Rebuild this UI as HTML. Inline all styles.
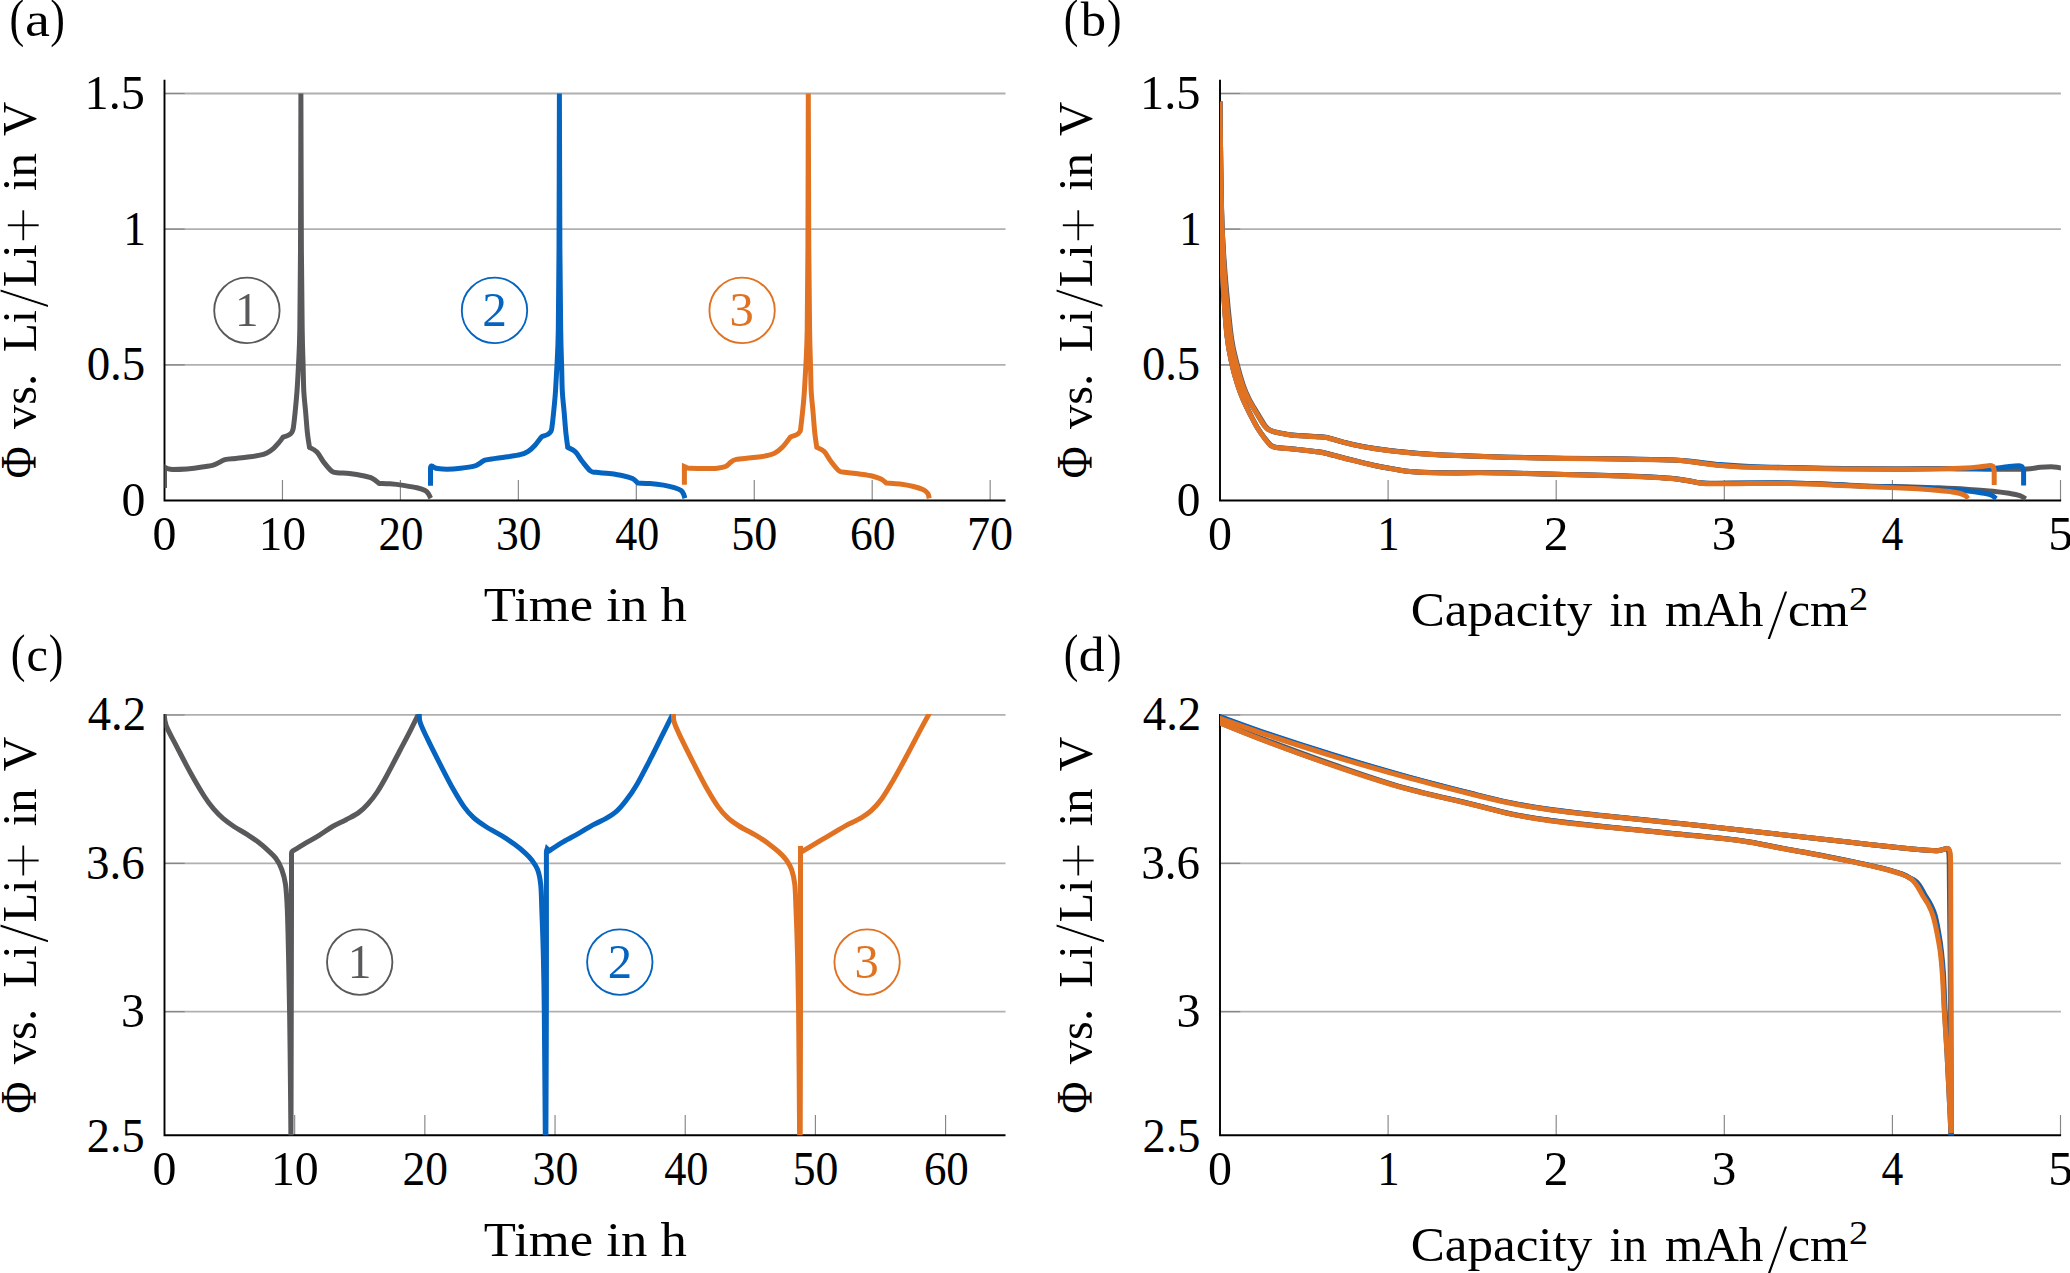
<!DOCTYPE html>
<html lang="en"><head><meta charset="utf-8"><title>Half-cell cycling: potential vs. time and capacity</title>
<style>html,body{margin:0;padding:0;background:#fff}body{width:2070px;height:1273px;overflow:hidden}svg{display:block}text{font-family:'Liberation Serif', 'DejaVu Serif', serif;white-space:pre}</style></head><body>
<svg width="2070" height="1273" viewBox="0 0 2070 1273" role="img" aria-label="Potential versus time and capacity for three cycles, panels (a) to (d)">
<rect width="2070" height="1273" fill="#fff"/>
<defs>
<clipPath id="ka"><rect x="164.5" y="92.7" width="841" height="407.75"/></clipPath>
<clipPath id="kb"><rect x="1220" y="80" width="840.9" height="420.45"/></clipPath>
<clipPath id="kc"><rect x="164.5" y="714.1" width="841" height="421.2"/></clipPath>
<clipPath id="kd"><rect x="1220" y="714.1" width="840.9" height="421.2"/></clipPath>
</defs>
<path d="M164.5 93.50H1005.5M164.5 229.15H1005.5M164.5 364.85H1005.5M1220.0 93.50H2060.9M1220.0 229.15H2060.9M1220.0 364.85H2060.9M164.5 714.95H1005.5M164.5 863.30H1005.5M164.5 1011.65H1005.5M1220.0 714.95H2060.9M1220.0 863.30H2060.9M1220.0 1011.65H2060.9" stroke="#b0b0b0" stroke-width="1.8" fill="none"/>
<path d="M164.5 93.50h20.2M164.5 229.15h20.2M164.5 364.85h20.2M1220.0 93.50h20.2M1220.0 229.15h20.2M1220.0 364.85h20.2M164.5 714.95h20.2M164.5 863.30h20.2M164.5 1011.65h20.2M1220.0 714.95h20.2M1220.0 863.30h20.2M1220.0 1011.65h20.2M282.45 500.45v-20.4M400.40 500.45v-20.4M518.35 500.45v-20.4M636.30 500.45v-20.4M754.25 500.45v-20.4M872.20 500.45v-20.4M990.15 500.45v-20.4M294.68 1135.3v-20.4M424.86 1135.3v-20.4M555.04 1135.3v-20.4M685.22 1135.3v-20.4M815.40 1135.3v-20.4M945.58 1135.3v-20.4M1388.10 500.45v-20.4M1388.10 1135.3v-20.4M1556.20 500.45v-20.4M1556.20 1135.3v-20.4M1724.30 500.45v-20.4M1724.30 1135.3v-20.4M1892.40 500.45v-20.4M1892.40 1135.3v-20.4M2060.50 500.45v-20.4M2060.50 1135.3v-20.4M2060.50 500.45v-20.4M2060.50 1135.3v-20.4" stroke="#868686" stroke-width="1.15" fill="none"/>
<path d="M164.5 79.8V500.45H1005.5M1220 79.8V500.45H2061.1M164.5 714.0V1135.3H1005.5M1220 714.0V1135.3H2061.1" stroke="#000" stroke-width="1.9" fill="none" stroke-linejoin="miter"/>
<path d="M164.5 487.9L164.5 467.0L167.5 468.6C168.4 468.7 169.4 469.3 172.7 469.4C175.9 469.4 182.3 469.2 187.0 468.9C191.7 468.5 196.1 468.0 200.6 467.3C205.1 466.6 210.0 466.2 214.1 464.9C218.2 463.6 221.3 460.8 224.9 459.7C228.5 458.6 231.9 458.8 235.7 458.4C239.5 458.0 244.1 457.6 247.9 457.1C251.7 456.6 255.5 456.1 258.7 455.4C261.9 454.7 264.4 454.1 266.9 452.9C269.4 451.7 271.6 450.0 273.6 448.3C275.6 446.6 277.4 444.4 279.0 442.5C280.6 440.6 282.4 438.0 283.1 437.1C284.0 436.8 287.0 435.9 288.5 435.1C290.0 434.3 291.1 433.5 291.9 432.2C292.7 430.9 292.8 430.9 293.4 427.5C293.9 424.1 294.6 417.7 295.2 411.6C295.8 405.6 296.4 399.0 297.0 391.2C297.6 383.4 298.0 374.9 298.5 364.7C299.0 354.5 299.5 349.1 299.8 330.0C300.1 310.9 300.3 289.4 300.5 250.0C300.7 210.6 300.8 119.6 300.9 93.5C301.0 119.6 301.2 210.6 301.4 250.0C301.6 289.4 301.9 310.9 302.2 330.0C302.5 349.1 302.8 354.5 303.1 364.7C303.4 374.9 303.4 383.4 303.8 391.2C304.2 399.0 305.0 404.8 305.6 411.6C306.2 418.4 306.7 426.1 307.3 432.0C307.9 437.9 309.1 444.8 309.5 447.3C310.7 448.1 314.5 449.5 316.9 452.0C319.3 454.5 321.2 458.9 323.7 462.1C326.2 465.3 329.6 469.5 331.8 471.3C334.1 473.1 334.3 472.3 337.2 472.7C340.1 473.1 345.1 473.1 349.4 473.6C353.7 474.1 359.1 474.9 362.9 475.7C366.7 476.5 369.7 477.1 372.4 478.4C375.1 479.7 378.0 482.6 379.1 483.4C380.9 483.5 385.8 483.5 389.9 483.8C394.0 484.1 399.0 484.7 403.5 485.4C408.0 486.1 413.4 486.9 417.0 487.8C420.6 488.7 423.2 489.5 425.1 490.5C427.0 491.5 427.6 492.6 428.5 493.9C429.4 495.2 430.3 497.6 430.7 498.3" fill="none" stroke="#59595b" stroke-width="5.00" stroke-linejoin="miter" stroke-miterlimit="10" clip-path="url(#ka)"/>
<path d="M430.5 485.7L430.5 468.5C430.5 468.2 430.5 467.2 430.7 466.8C430.9 466.4 431.2 466.0 431.5 465.9C431.8 465.8 432.1 466.0 432.6 466.3C433.1 466.6 433.7 467.1 434.5 467.5C435.3 467.9 435.5 468.2 437.6 468.5C439.7 468.8 443.2 469.2 447.0 469.2C450.8 469.1 456.1 468.7 460.6 468.2C465.1 467.7 471.0 467.0 474.1 466.2C477.2 465.4 477.7 464.5 479.5 463.5C481.3 462.5 482.2 461.0 484.9 460.1C487.6 459.2 491.9 459.0 495.7 458.4C499.5 457.8 503.8 457.3 507.9 456.7C512.0 456.1 516.7 455.6 520.1 454.7C523.5 453.8 525.7 452.9 528.2 451.3C530.7 449.7 532.8 447.6 535.0 445.2C537.2 442.8 540.6 438.1 541.7 436.7C542.7 436.3 546.3 435.2 547.8 434.4C549.3 433.5 550.1 432.8 550.8 431.6C551.5 430.5 551.4 430.8 551.9 427.5C552.4 424.2 553.1 417.7 553.7 411.6C554.3 405.6 555.0 399.0 555.5 391.2C556.0 383.4 556.5 374.9 557.0 364.7C557.5 354.5 558.0 349.1 558.3 330.0C558.6 310.9 558.8 289.4 559.0 250.0C559.2 210.6 559.3 119.6 559.4 93.5C559.5 119.6 559.7 210.6 559.9 250.0C560.1 289.4 560.4 310.9 560.7 330.0C561.0 349.1 561.3 354.5 561.6 364.7C561.9 374.9 561.9 383.4 562.3 391.2C562.7 399.0 563.5 404.8 564.1 411.6C564.7 418.4 565.2 426.1 565.8 432.0C566.4 437.9 567.4 444.8 567.7 447.3C569.0 448.1 573.2 449.6 575.6 452.0C578.0 454.4 579.8 458.4 582.3 461.5C584.8 464.6 588.1 469.1 590.4 470.9C592.6 472.7 592.6 471.9 595.8 472.3C599.0 472.8 604.9 473.0 609.4 473.6C613.9 474.2 619.1 474.9 622.9 475.7C626.7 476.5 629.9 477.4 632.4 478.6C634.9 479.8 636.9 482.4 637.8 483.1C639.8 483.2 645.7 483.2 650.0 483.5C654.3 483.8 659.5 484.4 663.5 485.1C667.5 485.8 671.4 486.7 674.3 487.6C677.2 488.5 679.5 489.3 681.1 490.5C682.7 491.7 683.2 493.3 683.8 494.6C684.4 495.9 684.7 497.7 684.9 498.3" fill="none" stroke="#0564c0" stroke-width="5.00" stroke-linejoin="miter" stroke-miterlimit="10" clip-path="url(#ka)"/>
<path d="M684.4 484.7L684.4 466.6L686.5 467.6C686.8 467.7 687.9 468.0 688.5 468.1C689.1 468.2 687.8 468.2 690.3 468.3C692.8 468.4 699.3 468.6 703.8 468.6C708.3 468.6 713.7 468.6 717.3 468.2C720.9 467.8 723.2 467.5 725.5 466.5C727.8 465.5 729.1 463.3 730.9 462.1C732.7 460.9 732.9 460.1 736.3 459.4C739.7 458.7 746.5 458.4 751.2 457.8C755.9 457.2 760.9 456.8 764.7 456.1C768.5 455.4 771.3 454.9 774.2 453.4C777.1 451.9 779.6 450.0 782.3 447.3C785.0 444.6 789.0 438.8 790.4 437.1C791.5 436.7 795.5 435.3 797.1 434.4C798.7 433.4 799.4 432.5 800.0 431.4C800.6 430.2 800.4 430.8 800.8 427.5C801.2 424.2 802.0 417.7 802.6 411.6C803.2 405.6 803.9 399.0 804.4 391.2C804.9 383.4 805.4 374.9 805.9 364.7C806.4 354.5 806.9 349.1 807.2 330.0C807.5 310.9 807.7 289.4 807.9 250.0C808.1 210.6 808.2 119.6 808.3 93.5C808.4 119.6 808.6 210.6 808.8 250.0C809.0 289.4 809.3 310.9 809.6 330.0C809.9 349.1 810.2 354.5 810.5 364.7C810.8 374.9 810.8 383.4 811.2 391.2C811.6 399.0 812.4 404.8 813.0 411.6C813.6 418.4 814.1 426.1 814.7 432.0C815.3 437.9 816.4 444.8 816.8 447.3C818.0 448.0 821.8 449.2 824.2 451.6C826.6 454.0 828.5 458.3 831.0 461.5C833.5 464.7 836.9 469.1 839.1 470.9C841.4 472.7 841.1 471.8 844.5 472.3C847.9 472.8 854.7 473.3 859.4 474.0C864.1 474.7 869.3 475.4 872.9 476.3C876.5 477.2 878.8 478.0 881.0 479.1C883.2 480.2 885.5 482.4 886.4 483.1C888.7 483.3 895.5 483.5 900.0 484.1C904.5 484.7 909.7 485.6 913.5 486.5C917.3 487.4 920.5 488.4 922.9 489.5C925.3 490.6 926.7 491.8 927.7 493.3C928.8 494.8 929.0 497.5 929.2 498.3" fill="none" stroke="#e07222" stroke-width="5.00" stroke-linejoin="miter" stroke-miterlimit="10" clip-path="url(#ka)"/>
<path d="M1220.0 101.6C1220.2 114.6 1220.6 158.6 1221.0 179.8C1221.4 201.0 1221.4 212.1 1222.2 228.8C1223.0 245.5 1224.1 261.6 1225.6 279.8C1227.2 298.0 1229.5 323.7 1231.5 337.8C1233.5 351.9 1235.3 356.8 1237.3 364.7C1239.3 372.6 1241.3 379.4 1243.3 385.2C1245.3 391.0 1246.9 394.6 1249.3 399.3C1251.7 404.0 1255.0 409.2 1257.5 413.4C1260.0 417.6 1262.5 421.8 1264.2 424.3C1265.9 426.8 1266.6 427.3 1267.5 428.2C1268.4 429.1 1268.4 429.3 1269.5 429.9C1270.6 430.5 1272.2 431.2 1274.0 431.7C1275.8 432.2 1277.4 432.5 1280.1 433.0C1282.8 433.5 1287.6 434.4 1290.0 434.8C1292.4 435.2 1290.5 434.9 1294.7 435.2C1298.9 435.5 1309.8 436.1 1315.0 436.5C1320.2 436.9 1321.3 436.4 1325.8 437.3C1330.3 438.2 1335.9 440.2 1342.0 441.7C1348.1 443.2 1354.4 444.9 1362.3 446.4C1370.2 447.9 1380.4 449.4 1389.4 450.5C1398.4 451.6 1407.4 452.5 1416.4 453.2C1425.4 453.9 1434.6 454.5 1443.5 454.9C1452.4 455.4 1458.8 455.5 1470.0 455.9C1481.2 456.3 1494.8 456.8 1510.6 457.2C1526.4 457.6 1546.7 458.0 1564.7 458.3C1582.7 458.6 1600.8 458.5 1618.8 458.8C1636.8 459.1 1660.5 459.4 1672.9 459.9C1685.3 460.4 1685.3 461.0 1693.2 461.9C1701.1 462.8 1710.7 464.4 1720.2 465.3C1729.7 466.2 1738.4 466.7 1750.0 467.1C1761.6 467.5 1774.3 467.5 1790.0 467.8C1805.7 468.1 1826.1 468.5 1844.1 468.7C1862.1 468.9 1882.4 469.0 1898.2 469.0C1914.0 469.0 1927.5 468.6 1938.8 468.6C1950.1 468.6 1956.3 468.8 1965.8 468.9C1975.3 469.0 1985.4 469.2 1995.6 469.2C2005.8 469.2 2019.3 469.2 2026.7 468.9C2034.1 468.6 2035.7 467.6 2040.2 467.3C2044.7 467.0 2049.8 466.7 2053.8 466.9C2057.8 467.1 2062.3 468.3 2064.0 468.6M1220.2 101.6C1220.2 114.7 1220.2 158.7 1220.4 179.8C1220.5 201.0 1220.4 212.2 1220.9 228.8C1221.3 245.5 1221.9 262.2 1223.0 279.9C1224.0 297.5 1225.4 320.7 1227.0 334.9C1228.5 349.0 1230.3 356.3 1232.2 364.7C1234.0 373.1 1236.0 379.5 1237.9 385.2C1239.7 391.0 1241.2 394.7 1243.2 399.4C1245.2 404.1 1247.5 408.7 1249.9 413.5C1252.2 418.2 1255.0 423.5 1257.5 427.7C1259.9 431.8 1262.6 435.4 1264.8 438.2C1266.9 441.1 1269.5 443.9 1270.5 445.1C1271.2 445.4 1271.6 446.6 1275.7 447.3C1279.8 448.0 1288.2 448.4 1294.7 449.1C1301.2 449.8 1309.8 450.7 1315.0 451.4C1320.2 452.1 1320.2 451.9 1325.8 453.2C1331.4 454.5 1340.5 457.1 1348.8 459.2C1357.1 461.3 1367.9 464.0 1375.8 465.7C1383.7 467.4 1390.4 468.5 1396.1 469.4C1401.8 470.4 1404.0 470.9 1409.7 471.4C1415.4 471.9 1422.1 472.3 1430.0 472.5C1437.9 472.7 1448.7 472.8 1457.0 472.8C1465.3 472.8 1471.1 472.5 1480.0 472.5C1488.9 472.5 1496.5 472.7 1510.6 473.0C1524.7 473.3 1546.7 474.0 1564.7 474.4C1582.7 474.9 1603.0 475.2 1618.8 475.7C1634.6 476.2 1649.2 476.9 1659.4 477.5C1669.6 478.1 1673.0 478.4 1679.7 479.3C1686.5 480.2 1696.5 482.3 1699.9 482.9C1701.7 482.6 1702.5 483.1 1710.8 483.2C1719.1 483.3 1736.8 482.9 1750.0 482.9C1763.2 482.8 1776.6 482.7 1790.0 482.9C1803.4 483.1 1817.1 483.7 1830.6 484.3C1844.1 484.8 1857.7 485.8 1871.2 486.2C1884.7 486.6 1900.4 486.6 1911.7 486.9C1923.0 487.2 1929.8 487.4 1938.8 487.8C1947.8 488.2 1956.8 488.6 1965.8 489.2C1974.8 489.8 1985.7 490.5 1992.9 491.2C2000.1 491.9 2004.6 492.6 2009.1 493.3C2013.6 494.1 2017.1 494.8 2019.9 495.7C2022.7 496.6 2024.7 498.4 2025.7 499.0" fill="none" stroke="#59595b" stroke-width="5.00" stroke-linejoin="miter" stroke-miterlimit="10" clip-path="url(#kb)"/>
<path d="M1220.0 101.6C1220.2 114.7 1220.6 158.7 1221.0 179.8C1221.4 201.0 1221.5 212.2 1222.2 228.8C1222.9 245.5 1223.5 261.7 1224.9 279.9C1226.3 298.0 1228.8 323.7 1230.8 337.9C1232.8 352.0 1234.6 356.8 1236.6 364.7C1238.6 372.6 1240.6 379.5 1242.6 385.2C1244.6 391.0 1246.2 394.7 1248.6 399.4C1251.0 404.1 1254.3 409.3 1256.8 413.5C1259.3 417.6 1261.8 421.9 1263.5 424.4C1265.2 426.8 1265.8 427.3 1266.8 428.2C1267.8 429.2 1268.3 429.4 1269.5 430.0C1270.7 430.5 1272.2 431.2 1274.0 431.8C1275.8 432.3 1277.4 432.5 1280.1 433.1C1282.8 433.6 1287.6 434.5 1290.0 434.9C1292.4 435.2 1290.5 435.0 1294.7 435.2C1298.9 435.5 1309.8 436.2 1315.0 436.6C1320.2 436.9 1321.3 436.5 1325.8 437.4C1330.3 438.2 1335.9 440.2 1342.0 441.8C1348.1 443.3 1354.4 445.0 1362.3 446.5C1370.2 447.9 1380.4 449.4 1389.4 450.6C1398.4 451.7 1407.4 452.5 1416.4 453.2C1425.4 454.0 1434.6 454.5 1443.5 455.0C1452.4 455.4 1458.8 455.6 1470.0 456.0C1481.2 456.3 1494.8 456.9 1510.6 457.2C1526.4 457.6 1546.7 458.1 1564.7 458.4C1582.7 458.6 1600.8 458.6 1618.8 458.9C1636.8 459.1 1660.5 459.5 1672.9 460.0C1685.3 460.4 1685.3 460.7 1693.2 461.5C1701.1 462.2 1710.7 463.8 1720.2 464.6C1729.7 465.4 1738.4 465.9 1750.0 466.4C1761.6 466.9 1774.3 467.2 1790.0 467.6C1805.7 467.9 1826.1 468.4 1844.1 468.6C1862.1 468.8 1882.4 468.9 1898.2 468.9C1914.0 468.9 1927.5 468.7 1938.8 468.6C1950.1 468.6 1956.3 468.7 1965.8 468.6C1975.3 468.5 1988.4 468.6 1995.6 468.2C2002.8 467.8 2005.3 466.9 2009.1 466.5C2012.9 466.1 2016.4 465.8 2018.6 465.8C2020.8 465.9 2021.4 466.6 2022.0 466.8L2023.6 470.3L2023.6 485.5M1220.1 101.7C1220.1 114.7 1220.2 158.7 1220.3 179.9C1220.4 201.1 1220.4 212.2 1220.8 228.9C1221.2 245.6 1221.9 262.2 1222.9 279.9C1223.9 297.6 1225.4 320.8 1226.9 334.9C1228.4 349.0 1230.3 356.4 1232.1 364.8C1233.9 373.1 1236.0 379.5 1237.8 385.3C1239.6 391.1 1241.1 394.7 1243.1 399.4C1245.1 404.1 1247.4 408.8 1249.8 413.5C1252.2 418.2 1254.9 423.6 1257.4 427.7C1259.9 431.8 1262.5 435.4 1264.7 438.3C1266.9 441.2 1269.4 444.0 1270.4 445.1C1271.2 445.4 1271.6 446.7 1275.7 447.4C1279.8 448.0 1288.2 448.5 1294.7 449.2C1301.2 449.8 1309.8 450.8 1315.0 451.5C1320.2 452.1 1320.2 451.9 1325.8 453.2C1331.4 454.6 1340.5 457.2 1348.8 459.2C1357.1 461.3 1367.9 464.1 1375.8 465.8C1383.7 467.4 1390.4 468.5 1396.1 469.5C1401.8 470.4 1404.0 470.9 1409.7 471.5C1415.4 472.0 1422.1 472.3 1430.0 472.6C1437.9 472.8 1448.7 472.9 1457.0 472.9C1465.3 472.9 1471.1 472.5 1480.0 472.6C1488.9 472.6 1496.5 472.7 1510.6 473.1C1524.7 473.4 1546.7 474.0 1564.7 474.5C1582.7 474.9 1603.0 475.2 1618.8 475.8C1634.6 476.3 1649.2 476.9 1659.4 477.6C1669.6 478.2 1673.0 478.5 1679.7 479.4C1686.5 480.2 1696.5 482.4 1699.9 483.0C1701.7 482.8 1702.5 483.3 1710.8 483.4C1719.1 483.5 1736.8 483.2 1750.0 483.1C1763.2 483.1 1776.6 482.9 1790.0 483.1C1803.4 483.3 1817.1 483.9 1830.6 484.5C1844.1 485.1 1857.7 485.9 1871.2 486.4C1884.7 486.9 1900.4 487.2 1911.7 487.6C1923.0 488.0 1929.8 488.4 1938.8 488.9C1947.8 489.4 1958.6 490.1 1965.8 490.8C1973.0 491.5 1977.8 492.2 1982.1 493.0C1986.4 493.8 1989.2 494.3 1991.5 495.3C1993.8 496.3 1995.4 498.2 1996.2 498.8" fill="none" stroke="#0564c0" stroke-width="5.00" stroke-linejoin="miter" stroke-miterlimit="10" clip-path="url(#kb)"/>
<path d="M1220.0 101.8C1220.2 114.8 1220.6 158.8 1221.0 180.0C1221.4 201.2 1221.5 212.3 1222.2 229.0C1222.9 245.7 1223.5 261.8 1224.9 280.0C1226.3 298.2 1228.8 323.9 1230.8 338.0C1232.8 352.1 1234.6 357.0 1236.6 364.9C1238.6 372.8 1240.6 379.6 1242.6 385.4C1244.6 391.2 1246.2 394.8 1248.6 399.5C1251.0 404.2 1254.3 409.4 1256.8 413.6C1259.3 417.8 1261.8 422.0 1263.5 424.5C1265.2 427.0 1265.8 427.5 1266.8 428.4C1267.8 429.3 1268.3 429.5 1269.5 430.1C1270.7 430.7 1272.2 431.4 1274.0 431.9C1275.8 432.4 1277.4 432.7 1280.1 433.2C1282.8 433.7 1287.6 434.6 1290.0 435.0C1292.4 435.4 1290.5 435.1 1294.7 435.4C1298.9 435.7 1309.8 436.3 1315.0 436.7C1320.2 437.1 1321.3 436.6 1325.8 437.5C1330.3 438.4 1335.9 440.4 1342.0 441.9C1348.1 443.4 1354.4 445.1 1362.3 446.6C1370.2 448.1 1380.4 449.6 1389.4 450.7C1398.4 451.8 1407.4 452.7 1416.4 453.4C1425.4 454.1 1434.6 454.7 1443.5 455.1C1452.4 455.6 1458.8 455.7 1470.0 456.1C1481.2 456.5 1494.8 457.0 1510.6 457.4C1526.4 457.8 1546.7 458.2 1564.7 458.5C1582.7 458.8 1600.8 458.7 1618.8 459.0C1636.8 459.3 1660.5 459.6 1672.9 460.1C1685.3 460.6 1685.3 461.2 1693.2 462.1C1701.1 463.0 1710.7 464.6 1720.2 465.5C1729.7 466.4 1738.4 466.9 1750.0 467.3C1761.6 467.7 1774.3 467.7 1790.0 468.0C1805.7 468.3 1826.1 468.7 1844.1 468.9C1862.1 469.1 1882.4 469.2 1898.2 469.2C1914.0 469.2 1927.5 469.1 1938.8 468.9C1950.1 468.7 1958.6 468.4 1965.8 468.0C1973.0 467.6 1978.0 466.9 1982.1 466.5C1986.2 466.1 1988.4 465.5 1990.2 465.5C1992.0 465.5 1992.5 466.3 1993.0 466.5L1994.2 470.3L1994.2 484.9M1220.0 101.8C1220.0 114.8 1220.1 158.8 1220.2 180.0C1220.3 201.2 1220.3 212.3 1220.7 229.0C1221.1 245.7 1221.8 262.3 1222.8 280.0C1223.8 297.7 1225.3 320.9 1226.8 335.0C1228.3 349.1 1230.2 356.5 1232.0 364.9C1233.8 373.2 1235.9 379.6 1237.7 385.4C1239.5 391.2 1241.0 394.8 1243.0 399.5C1245.0 404.2 1247.3 408.9 1249.7 413.6C1252.1 418.3 1254.8 423.7 1257.3 427.8C1259.8 431.9 1262.4 435.5 1264.6 438.4C1266.8 441.3 1269.3 444.1 1270.3 445.2C1271.2 445.6 1271.6 446.8 1275.7 447.5C1279.8 448.2 1288.2 448.6 1294.7 449.3C1301.2 450.0 1309.8 450.9 1315.0 451.6C1320.2 452.3 1320.2 452.1 1325.8 453.4C1331.4 454.7 1340.5 457.3 1348.8 459.4C1357.1 461.5 1367.9 464.2 1375.8 465.9C1383.7 467.6 1390.4 468.7 1396.1 469.6C1401.8 470.6 1404.0 471.1 1409.7 471.6C1415.4 472.1 1422.1 472.5 1430.0 472.7C1437.9 472.9 1448.7 473.0 1457.0 473.0C1465.3 473.0 1471.1 472.7 1480.0 472.7C1488.9 472.7 1496.5 472.9 1510.6 473.2C1524.7 473.5 1546.7 474.2 1564.7 474.6C1582.7 475.1 1603.0 475.4 1618.8 475.9C1634.6 476.4 1649.2 477.1 1659.4 477.7C1669.6 478.3 1673.0 478.6 1679.7 479.5C1686.5 480.4 1696.5 482.5 1699.9 483.1C1701.7 483.2 1702.5 483.7 1710.8 483.8C1719.1 483.9 1736.8 483.6 1750.0 483.5C1763.2 483.4 1776.6 483.3 1790.0 483.5C1803.4 483.7 1817.1 484.3 1830.6 484.9C1844.1 485.4 1857.7 486.2 1871.2 486.8C1884.7 487.4 1900.4 487.9 1911.7 488.5C1923.0 489.1 1932.0 489.9 1938.8 490.5C1945.6 491.1 1948.7 491.4 1952.3 491.9C1955.9 492.4 1958.2 492.8 1960.4 493.5C1962.7 494.2 1964.5 495.1 1965.8 496.0C1967.1 496.9 1967.6 498.3 1968.0 498.8" fill="none" stroke="#e07222" stroke-width="5.00" stroke-linejoin="miter" stroke-miterlimit="10" clip-path="url(#kb)"/>
<path d="M164.0 712.5C164.4 714.7 164.0 719.9 166.2 725.7C168.4 731.5 173.0 739.4 177.1 747.3C181.2 755.2 186.1 764.9 190.6 773.0C195.1 781.1 200.3 790.0 204.1 796.0C207.9 802.0 210.4 805.2 213.6 808.9C216.8 812.6 219.6 815.5 223.0 818.4C226.4 821.3 229.8 823.8 233.9 826.5C238.0 829.2 243.4 832.0 247.4 834.6C251.4 837.2 254.8 839.4 258.2 842.0C261.6 844.6 264.8 847.4 267.7 850.1C270.6 852.8 273.4 855.0 275.8 858.3C278.2 861.5 280.2 865.2 281.8 869.6C283.4 874.0 284.6 877.8 285.5 884.4C286.4 891.0 286.8 897.5 287.3 909.1C287.8 920.7 288.1 936.6 288.5 953.7C288.9 970.8 289.2 987.4 289.6 1011.8C290.0 1036.2 290.4 1079.3 290.6 1100.0C290.8 1120.7 290.8 1130.0 290.9 1136.0L291.0 1136.0C291.1 1096.7 291.4 947.0 291.5 900.0C291.6 853.0 291.5 861.7 291.5 854.0C291.6 853.7 291.6 852.5 291.8 852.0C292.1 851.5 292.5 851.1 293.0 850.7C293.5 850.3 292.9 851.0 295.0 849.7C297.1 848.5 301.6 845.6 305.6 843.2C309.6 840.8 314.6 838.1 319.1 835.3C323.6 832.5 328.1 829.1 332.6 826.5C337.1 823.9 341.8 822.0 346.1 819.7C350.4 817.4 354.7 815.5 358.3 812.9C361.9 810.3 364.7 807.7 367.8 804.2C370.9 800.7 374.1 796.8 377.2 792.0C380.3 787.2 382.9 782.7 386.7 775.7C390.5 768.7 396.1 757.8 400.2 750.0C404.3 742.2 408.0 735.3 411.1 729.1C414.2 722.9 417.7 715.7 419.0 713.0" fill="none" stroke="#59595b" stroke-width="5.00" stroke-linejoin="miter" stroke-miterlimit="10" clip-path="url(#kc)"/>
<path d="M419.4 712.0C419.5 713.7 418.7 717.8 420.1 722.3C421.5 726.8 424.3 732.3 427.6 739.2C430.9 746.1 435.5 755.2 439.8 763.6C444.1 772.0 449.2 782.1 453.3 789.3C457.4 796.5 460.7 802.2 464.1 806.9C467.5 811.6 470.0 814.4 473.6 817.7C477.2 821.0 481.0 823.5 485.7 826.5C490.4 829.5 497.2 833.0 502.0 835.9C506.8 838.8 510.4 841.3 514.2 844.1C518.0 846.9 522.0 850.1 525.0 852.8C528.0 855.5 529.9 857.5 532.0 860.3C534.1 863.1 536.1 865.6 537.6 869.6C539.1 873.6 540.0 877.8 540.7 884.4C541.4 891.0 541.4 897.5 541.8 909.1C542.2 920.7 542.9 936.6 543.3 953.7C543.7 970.8 544.0 981.4 544.3 1011.8C544.6 1042.2 545.1 1115.3 545.3 1136.0L545.9 1136.0C546.0 1113.3 546.3 1047.2 546.4 1000.0C546.5 952.8 546.4 877.5 546.4 853.0C546.4 852.7 546.4 851.7 546.5 851.0C546.6 850.3 547.1 849.2 547.2 848.8L549.2 850.8C551.5 849.3 558.2 844.7 563.2 841.8C568.2 838.9 574.2 836.0 579.1 833.2C584.0 830.4 588.1 827.6 592.6 825.1C597.1 822.6 602.0 820.8 606.1 818.4C610.2 816.0 613.6 813.9 617.0 810.9C620.4 807.9 623.0 804.6 626.4 800.1C629.8 795.6 633.1 790.9 637.2 783.9C641.3 776.9 646.3 767.0 650.8 758.2C655.3 749.4 660.5 738.6 664.3 731.1C668.0 723.6 671.8 716.0 673.3 713.0" fill="none" stroke="#0564c0" stroke-width="5.00" stroke-linejoin="miter" stroke-miterlimit="10" clip-path="url(#kc)"/>
<path d="M673.5 712.0C673.6 713.7 672.9 717.8 674.2 722.3C675.6 726.8 678.3 732.3 681.6 739.2C684.9 746.1 689.5 755.2 693.8 763.6C698.1 772.0 703.2 782.1 707.3 789.3C711.4 796.5 714.8 802.2 718.2 806.9C721.6 811.6 724.0 814.4 727.6 817.7C731.2 821.0 735.1 823.6 739.8 826.5C744.5 829.4 751.3 832.5 756.0 835.3C760.7 838.1 764.4 840.6 768.2 843.4C772.0 846.2 776.0 849.4 779.0 852.2C782.0 855.0 784.2 857.1 786.3 860.0C788.4 862.9 790.2 865.5 791.6 869.6C793.0 873.7 794.1 877.8 794.8 884.4C795.5 891.0 795.5 897.5 796.0 909.1C796.5 920.7 797.1 936.6 797.5 953.7C797.9 970.8 798.2 981.4 798.6 1011.8C799.0 1042.2 799.4 1115.3 799.6 1136.0L800.2 1136.0C800.2 1113.3 800.5 1048.3 800.5 1000.0C800.5 951.7 800.5 871.7 800.5 846.0L800.9 852.2C803.8 850.5 812.8 845.0 818.2 841.8C823.6 838.6 828.4 836.0 833.1 833.2C837.9 830.4 842.2 827.6 846.7 825.1C851.2 822.6 856.2 820.8 860.2 818.4C864.2 816.0 867.4 814.2 871.0 810.9C874.6 807.6 878.2 803.7 881.8 798.7C885.4 793.8 888.6 788.2 892.7 781.2C896.8 774.2 901.7 765.1 906.2 756.8C910.7 748.4 915.8 738.4 919.7 731.1C923.6 723.8 927.9 716.0 929.5 713.0" fill="none" stroke="#e07222" stroke-width="5.00" stroke-linejoin="miter" stroke-miterlimit="10" clip-path="url(#kc)"/>
<path d="M1218.0 716.5C1218.3 716.6 1211.6 714.3 1219.9 717.2C1228.2 720.2 1248.4 727.8 1267.6 734.2C1286.8 740.7 1312.8 749.1 1335.3 756.0C1357.8 762.9 1380.5 769.5 1402.9 775.7C1425.4 782.0 1452.0 788.8 1470.0 793.3C1488.0 797.8 1497.1 800.2 1510.6 802.9C1524.1 805.6 1535.4 807.5 1551.2 809.7C1567.0 811.9 1585.0 813.7 1605.3 815.9C1625.6 818.1 1650.5 820.5 1672.9 822.8C1695.4 825.1 1719.8 827.7 1740.0 829.9C1760.2 832.1 1776.1 834.0 1794.1 836.0C1812.1 838.0 1830.2 840.1 1848.2 842.1C1866.2 844.1 1888.3 846.5 1902.3 847.9C1916.3 849.3 1925.8 850.2 1932.1 850.6C1938.4 851.0 1937.9 850.5 1940.2 850.2C1942.5 849.9 1945.0 848.9 1946.0 848.6C1946.3 848.9 1947.1 848.9 1947.6 849.6C1948.1 850.3 1948.5 851.1 1948.8 853.0C1949.1 854.9 1949.1 859.7 1949.2 861.0C1949.2 865.0 1949.2 867.9 1949.4 884.7C1949.6 901.5 1949.9 920.1 1950.2 962.0C1950.5 1003.9 1950.9 1107.0 1951.1 1136.0M1218.0 721.5C1218.3 721.6 1211.6 719.0 1219.9 722.2C1228.2 725.4 1248.4 733.4 1267.6 740.5C1286.8 747.7 1312.8 757.3 1335.3 765.2C1357.8 773.0 1380.5 781.0 1402.9 787.4C1425.4 793.8 1452.0 799.2 1470.0 803.6C1488.0 808.0 1497.1 810.9 1510.6 813.7C1524.1 816.5 1535.4 818.4 1551.2 820.6C1567.0 822.7 1585.0 824.6 1605.3 826.7C1625.6 828.8 1650.5 831.1 1672.9 833.4C1695.4 835.7 1722.0 838.0 1740.0 840.4C1758.0 842.8 1767.1 845.4 1780.6 847.9C1794.1 850.4 1808.8 852.9 1821.2 855.3C1833.6 857.7 1844.9 860.0 1855.0 862.1C1865.1 864.2 1874.1 866.2 1882.0 868.2C1889.9 870.2 1897.3 872.4 1902.3 874.2C1907.3 876.0 1910.2 878.2 1911.8 879.0C1913.4 879.4 1916.8 881.8 1918.9 884.5C1921.0 887.2 1922.7 891.2 1924.7 894.5C1926.7 897.8 1929.0 901.0 1930.7 904.5C1932.4 908.0 1933.8 910.8 1935.1 915.3C1936.4 919.8 1937.4 925.4 1938.5 931.5C1939.6 937.6 1940.7 944.6 1941.5 951.8C1942.3 959.0 1942.9 964.6 1943.5 974.5C1944.1 984.4 1944.4 997.4 1945.1 1010.9C1945.8 1024.4 1946.8 1039.9 1947.6 1055.3C1948.4 1070.7 1949.3 1089.8 1950.0 1103.2C1950.7 1116.6 1951.2 1130.1 1951.5 1135.5" fill="none" stroke="#59595b" stroke-width="5.00" stroke-linejoin="miter" stroke-miterlimit="10" clip-path="url(#kd)"/>
<path d="M1218.0 715.8C1218.3 715.9 1211.6 713.5 1219.9 716.5C1228.2 719.5 1248.4 727.1 1267.6 733.6C1286.8 740.1 1312.8 748.5 1335.3 755.4C1357.8 762.4 1380.5 769.1 1402.9 775.3C1425.4 781.6 1452.0 788.4 1470.0 793.0C1488.0 797.5 1497.1 799.9 1510.6 802.6C1524.1 805.4 1535.4 807.3 1551.2 809.5C1567.0 811.7 1585.0 813.6 1605.3 815.8C1625.6 818.0 1650.5 820.4 1672.9 822.7C1695.4 825.1 1719.8 827.7 1740.0 829.9C1760.2 832.1 1776.1 834.0 1794.1 836.0C1812.1 838.0 1830.2 840.1 1848.2 842.1C1866.2 844.1 1888.3 846.5 1902.3 847.9C1916.3 849.3 1925.8 850.2 1932.1 850.6C1938.4 851.0 1937.9 850.5 1940.2 850.2C1942.5 849.9 1945.0 848.9 1946.0 848.6C1946.4 848.7 1947.7 848.3 1948.3 849.0C1948.9 849.7 1949.3 851.0 1949.6 853.0C1949.9 855.0 1949.9 859.7 1950.0 861.0C1950.0 865.0 1950.0 867.9 1950.1 884.7C1950.2 901.5 1950.4 920.1 1950.6 962.0C1950.8 1003.9 1951.2 1107.0 1951.3 1136.0M1218.0 722.0C1218.3 722.2 1211.6 719.5 1219.9 722.8C1228.2 726.0 1248.4 734.4 1267.6 741.6C1286.8 748.9 1312.8 758.4 1335.3 766.0C1357.8 773.7 1380.5 781.4 1402.9 787.6C1425.4 793.9 1452.0 799.4 1470.0 803.8C1488.0 808.1 1497.1 811.0 1510.6 813.9C1524.1 816.7 1535.4 818.5 1551.2 820.6C1567.0 822.8 1585.0 824.6 1605.3 826.8C1625.6 828.9 1650.5 831.2 1672.9 833.5C1695.4 835.7 1722.0 838.0 1740.0 840.5C1758.0 842.9 1767.1 845.5 1780.6 848.0C1794.1 850.4 1808.8 853.0 1821.2 855.4C1833.6 857.7 1844.9 860.0 1855.0 862.1C1865.1 864.3 1874.1 866.2 1882.0 868.2C1889.9 870.3 1897.3 872.5 1902.3 874.2C1907.3 876.0 1910.2 878.2 1911.8 879.0C1912.9 879.9 1916.3 882.3 1918.4 885.0C1920.5 887.7 1922.2 891.7 1924.2 895.0C1926.2 898.3 1928.5 901.5 1930.2 905.0C1931.9 908.5 1933.3 911.3 1934.6 915.8C1935.9 920.3 1936.9 925.9 1938.0 932.0C1939.1 938.1 1940.2 945.1 1941.0 952.3C1941.8 959.5 1942.4 965.1 1943.0 975.0C1943.6 984.9 1943.9 997.9 1944.6 1011.4C1945.3 1024.9 1946.3 1040.4 1947.1 1055.8C1947.9 1071.2 1948.8 1090.3 1949.5 1103.7C1950.2 1117.1 1950.8 1130.6 1951.0 1136.0" fill="none" stroke="#0564c0" stroke-width="5.00" stroke-linejoin="miter" stroke-miterlimit="10" clip-path="url(#kd)"/>
<path d="M1218.0 717.6C1218.3 717.7 1211.6 715.4 1219.9 718.3C1228.2 721.2 1248.4 728.8 1267.6 735.2C1286.8 741.6 1312.8 749.9 1335.3 756.8C1357.8 763.7 1380.5 770.2 1402.9 776.4C1425.4 782.6 1452.0 789.3 1470.0 793.8C1488.0 798.3 1497.1 800.6 1510.6 803.3C1524.1 806.0 1535.4 807.9 1551.2 810.0C1567.0 812.1 1585.0 814.0 1605.3 816.1C1625.6 818.2 1650.5 820.6 1672.9 822.9C1695.4 825.2 1719.8 827.7 1740.0 829.9C1760.2 832.1 1776.1 834.0 1794.1 836.0C1812.1 838.0 1830.2 840.1 1848.2 842.1C1866.2 844.1 1888.3 846.5 1902.3 847.9C1916.3 849.3 1925.8 850.2 1932.1 850.6C1938.4 851.0 1937.9 850.5 1940.2 850.2C1942.5 849.9 1945.0 848.9 1946.0 848.6C1946.5 848.7 1948.1 848.3 1948.8 849.0C1949.5 849.7 1949.9 851.0 1950.2 853.0C1950.5 855.0 1950.5 859.7 1950.6 861.0C1950.6 865.0 1950.7 867.9 1950.7 884.7C1950.8 901.5 1950.8 920.6 1950.9 962.0C1951.0 1003.4 1951.2 1104.6 1951.3 1133.1M1218.0 722.3C1218.3 722.4 1211.6 719.7 1219.9 723.0C1228.2 726.3 1248.4 734.7 1267.6 741.9C1286.8 749.1 1312.8 758.6 1335.3 766.3C1357.8 774.0 1380.5 781.6 1402.9 787.9C1425.4 794.2 1452.0 799.6 1470.0 804.0C1488.0 808.4 1497.1 811.3 1510.6 814.1C1524.1 816.9 1535.4 818.8 1551.2 820.9C1567.0 823.0 1585.0 824.9 1605.3 827.0C1625.6 829.1 1650.5 831.4 1672.9 833.7C1695.4 836.0 1722.0 838.3 1740.0 840.7C1758.0 843.1 1767.1 845.7 1780.6 848.2C1794.1 850.7 1808.8 853.2 1821.2 855.6C1833.6 858.0 1844.9 860.2 1855.0 862.4C1865.1 864.5 1874.1 866.5 1882.0 868.5C1889.9 870.5 1897.3 872.7 1902.3 874.5C1907.3 876.3 1910.2 878.5 1911.8 879.3C1912.7 880.4 1915.4 883.3 1917.2 886.0C1919.0 888.7 1920.7 892.3 1922.6 895.5C1924.5 898.7 1926.8 901.6 1928.5 905.0C1930.2 908.4 1931.6 911.3 1933.0 915.8C1934.4 920.3 1935.6 925.9 1936.8 932.0C1938.0 938.1 1939.4 945.1 1940.3 952.3C1941.2 959.5 1941.7 965.1 1942.4 975.0C1943.1 984.9 1943.5 997.9 1944.3 1011.4C1945.1 1024.9 1946.2 1040.4 1947.1 1055.8C1948.0 1071.2 1948.8 1090.8 1949.5 1103.7C1950.2 1116.6 1950.8 1128.2 1951.0 1133.1" fill="none" stroke="#e07222" stroke-width="5.00" stroke-linejoin="miter" stroke-miterlimit="10" clip-path="url(#kd)"/>
<circle cx="246.9" cy="310.4" r="32.7" fill="none" stroke="#59595b" stroke-width="1.85"/>
<circle cx="494.5" cy="310.4" r="32.7" fill="none" stroke="#0564c0" stroke-width="1.85"/>
<circle cx="742.1" cy="310.4" r="32.7" fill="none" stroke="#e07222" stroke-width="1.85"/>
<circle cx="359.7" cy="962.1" r="32.7" fill="none" stroke="#59595b" stroke-width="1.85"/>
<circle cx="619.8" cy="962.1" r="32.7" fill="none" stroke="#0564c0" stroke-width="1.85"/>
<circle cx="867.1" cy="962.1" r="32.7" fill="none" stroke="#e07222" stroke-width="1.85"/>
<text x="10.73" y="671.47" font-size="53.49" textLength="14.75" lengthAdjust="spacingAndGlyphs">(</text>
<text x="26.38" y="670.60" font-size="49.00" textLength="21.40" lengthAdjust="spacingAndGlyphs">c</text>
<text x="48.86" y="671.25" font-size="53.19" textLength="14.62" lengthAdjust="spacingAndGlyphs">)</text>
<text x="1063.70" y="670.78" font-size="52.69" textLength="14.63" lengthAdjust="spacingAndGlyphs">(</text>
<text x="1078.87" y="670.60" font-size="49.00" textLength="25.81" lengthAdjust="spacingAndGlyphs">d</text>
<text x="1107.00" y="671.34" font-size="53.22" textLength="14.49" lengthAdjust="spacingAndGlyphs">)</text>
<text x="9.58" y="36.37" font-size="53.49" textLength="14.75" lengthAdjust="spacingAndGlyphs">(</text>
<text x="24.99" y="35.50" font-size="49.00" textLength="24.93" lengthAdjust="spacingAndGlyphs">a</text>
<text x="50.16" y="36.15" font-size="53.19" textLength="14.62" lengthAdjust="spacingAndGlyphs">)</text>
<text x="1063.70" y="35.68" font-size="52.69" textLength="14.63" lengthAdjust="spacingAndGlyphs">(</text>
<text x="1080.85" y="35.50" font-size="49.00" textLength="25.29" lengthAdjust="spacingAndGlyphs">b</text>
<text x="1107.00" y="36.24" font-size="53.22" textLength="14.49" lengthAdjust="spacingAndGlyphs">)</text>
<text x="152.43" y="550.10" font-size="49.00" textLength="23.93" lengthAdjust="spacingAndGlyphs">0</text>
<text x="258.77" y="550.10" font-size="49.00" textLength="47.24" lengthAdjust="spacingAndGlyphs">10</text>
<text x="378.50" y="550.10" font-size="49.00" textLength="45.04" lengthAdjust="spacingAndGlyphs">20</text>
<text x="496.00" y="550.10" font-size="49.00" textLength="45.58" lengthAdjust="spacingAndGlyphs">30</text>
<text x="615.18" y="550.10" font-size="49.00" textLength="43.97" lengthAdjust="spacingAndGlyphs">40</text>
<text x="731.28" y="550.10" font-size="49.00" textLength="46.18" lengthAdjust="spacingAndGlyphs">50</text>
<text x="849.92" y="550.10" font-size="49.00" textLength="45.64" lengthAdjust="spacingAndGlyphs">60</text>
<text x="966.89" y="550.10" font-size="49.00" textLength="46.19" lengthAdjust="spacingAndGlyphs">70</text>
<text x="152.43" y="1185.00" font-size="49.00" textLength="23.93" lengthAdjust="spacingAndGlyphs">0</text>
<text x="270.97" y="1185.00" font-size="49.00" textLength="47.78" lengthAdjust="spacingAndGlyphs">10</text>
<text x="402.58" y="1185.00" font-size="49.00" textLength="45.45" lengthAdjust="spacingAndGlyphs">20</text>
<text x="532.50" y="1185.00" font-size="49.00" textLength="45.95" lengthAdjust="spacingAndGlyphs">30</text>
<text x="664.16" y="1185.00" font-size="49.00" textLength="44.35" lengthAdjust="spacingAndGlyphs">40</text>
<text x="792.69" y="1185.00" font-size="49.00" textLength="45.78" lengthAdjust="spacingAndGlyphs">50</text>
<text x="923.90" y="1185.00" font-size="49.00" textLength="44.94" lengthAdjust="spacingAndGlyphs">60</text>
<text x="1208.03" y="550.10" font-size="49.00" textLength="23.98" lengthAdjust="spacingAndGlyphs">0</text>
<text x="1208.03" y="1185.00" font-size="49.00" textLength="23.98" lengthAdjust="spacingAndGlyphs">0</text>
<text x="1377.17" y="550.10" font-size="49.00" textLength="22.40" lengthAdjust="spacingAndGlyphs">1</text>
<text x="1377.17" y="1185.00" font-size="49.00" textLength="22.40" lengthAdjust="spacingAndGlyphs">1</text>
<text x="1543.77" y="550.10" font-size="49.00" textLength="24.77" lengthAdjust="spacingAndGlyphs">2</text>
<text x="1543.77" y="1185.00" font-size="49.00" textLength="24.77" lengthAdjust="spacingAndGlyphs">2</text>
<text x="1711.74" y="550.10" font-size="49.00" textLength="24.51" lengthAdjust="spacingAndGlyphs">3</text>
<text x="1711.74" y="1185.00" font-size="49.00" textLength="24.51" lengthAdjust="spacingAndGlyphs">3</text>
<text x="1881.41" y="550.10" font-size="49.00" textLength="21.80" lengthAdjust="spacingAndGlyphs">4</text>
<text x="1881.41" y="1185.00" font-size="49.00" textLength="21.80" lengthAdjust="spacingAndGlyphs">4</text>
<text x="2048.24" y="550.10" font-size="49.00" textLength="24.77" lengthAdjust="spacingAndGlyphs">5</text>
<text x="2048.24" y="1185.00" font-size="49.00" textLength="24.77" lengthAdjust="spacingAndGlyphs">5</text>
<text x="84.59" y="109.00" font-size="49.00" textLength="60.27" lengthAdjust="spacingAndGlyphs">1.5</text>
<text x="123.36" y="244.65" font-size="49.00" textLength="22.71" lengthAdjust="spacingAndGlyphs">1</text>
<text x="86.64" y="380.35" font-size="49.00" textLength="58.70" lengthAdjust="spacingAndGlyphs">0.5</text>
<text x="121.41" y="515.95" font-size="49.00" textLength="23.89" lengthAdjust="spacingAndGlyphs">0</text>
<text x="1140.05" y="109.00" font-size="49.00" textLength="60.47" lengthAdjust="spacingAndGlyphs">1.5</text>
<text x="1179.17" y="244.65" font-size="49.00" textLength="22.40" lengthAdjust="spacingAndGlyphs">1</text>
<text x="1141.89" y="380.35" font-size="49.00" textLength="58.30" lengthAdjust="spacingAndGlyphs">0.5</text>
<text x="1176.77" y="515.95" font-size="49.00" textLength="23.71" lengthAdjust="spacingAndGlyphs">0</text>
<text x="87.65" y="730.40" font-size="49.00" textLength="58.40" lengthAdjust="spacingAndGlyphs">4.2</text>
<text x="86.09" y="878.60" font-size="49.00" textLength="58.71" lengthAdjust="spacingAndGlyphs">3.6</text>
<text x="120.95" y="1026.90" font-size="49.00" textLength="23.84" lengthAdjust="spacingAndGlyphs">3</text>
<text x="86.85" y="1151.50" font-size="49.00" textLength="57.89" lengthAdjust="spacingAndGlyphs">2.5</text>
<text x="1142.82" y="730.40" font-size="49.00" textLength="58.41" lengthAdjust="spacingAndGlyphs">4.2</text>
<text x="1141.20" y="878.60" font-size="49.00" textLength="58.85" lengthAdjust="spacingAndGlyphs">3.6</text>
<text x="1176.42" y="1026.90" font-size="49.00" textLength="24.00" lengthAdjust="spacingAndGlyphs">3</text>
<text x="1142.54" y="1151.50" font-size="49.00" textLength="57.96" lengthAdjust="spacingAndGlyphs">2.5</text>
<text x="483.84" y="620.90" font-size="49.00" textLength="202.95" lengthAdjust="spacingAndGlyphs">Time in h</text>
<text x="483.84" y="1256.00" font-size="49.00" textLength="202.95" lengthAdjust="spacingAndGlyphs">Time in h</text>
<text x="1410.70" y="626.30" font-size="49.00" textLength="181.58" lengthAdjust="spacingAndGlyphs">Capacity</text>
<text x="1609.53" y="626.30" font-size="49.00" textLength="37.50" lengthAdjust="spacingAndGlyphs">in</text>
<text x="1664.88" y="626.30" font-size="49.00" textLength="98.64" lengthAdjust="spacingAndGlyphs">mAh</text>
<text x="1766.87" y="637.52" font-size="71.54" textLength="21.28" lengthAdjust="spacingAndGlyphs" stroke="#fff" stroke-width="1.1">/</text>
<text x="1787.98" y="626.30" font-size="49.00" textLength="60.82" lengthAdjust="spacingAndGlyphs">cm</text>
<text x="1849.03" y="609.50" font-size="32.96" textLength="19.18" lengthAdjust="spacingAndGlyphs">2</text>
<text x="1410.70" y="1261.40" font-size="49.00" textLength="181.58" lengthAdjust="spacingAndGlyphs">Capacity</text>
<text x="1609.53" y="1261.40" font-size="49.00" textLength="37.50" lengthAdjust="spacingAndGlyphs">in</text>
<text x="1664.88" y="1261.40" font-size="49.00" textLength="98.64" lengthAdjust="spacingAndGlyphs">mAh</text>
<text x="1766.87" y="1272.62" font-size="71.54" textLength="21.28" lengthAdjust="spacingAndGlyphs" stroke="#fff" stroke-width="1.1">/</text>
<text x="1787.98" y="1261.40" font-size="49.00" textLength="60.82" lengthAdjust="spacingAndGlyphs">cm</text>
<text x="1849.03" y="1244.40" font-size="32.96" textLength="19.18" lengthAdjust="spacingAndGlyphs">2</text>
<text transform="translate(36.20 477.10) rotate(-90)" x="-1.27" y="-0.91" font-size="49.92" textLength="31.74" lengthAdjust="spacingAndGlyphs">Φ</text>
<text transform="translate(36.20 477.10) rotate(-90)" x="48.10" y="0.00" font-size="49.00" textLength="55.20" lengthAdjust="spacingAndGlyphs">vs.</text>
<text transform="translate(36.20 477.10) rotate(-90)" x="125.10" y="0.00" font-size="49.00" textLength="41.89" lengthAdjust="spacingAndGlyphs">Li</text>
<text transform="translate(36.20 477.10) rotate(-90)" x="169.31" y="10.95" font-size="71.66" textLength="19.07" lengthAdjust="spacingAndGlyphs" stroke="#fff" stroke-width="1.1">/</text>
<text transform="translate(36.20 477.10) rotate(-90)" x="189.78" y="0.00" font-size="49.00" textLength="43.07" lengthAdjust="spacingAndGlyphs">Li</text>
<text transform="translate(36.20 477.10) rotate(-90)" x="232.77" y="11.06" font-size="70.72" textLength="37.93" lengthAdjust="spacingAndGlyphs" stroke="#fff" stroke-width="1.6">+</text>
<text transform="translate(36.20 477.10) rotate(-90)" x="286.10" y="0.00" font-size="49.00" textLength="37.90" lengthAdjust="spacingAndGlyphs">in</text>
<text transform="translate(36.20 477.10) rotate(-90)" x="341.05" y="0.00" font-size="49.00" textLength="34.21" lengthAdjust="spacingAndGlyphs">V</text>
<text transform="translate(36.20 1112.20) rotate(-90)" x="-1.31" y="-0.91" font-size="49.92" textLength="31.82" lengthAdjust="spacingAndGlyphs">Φ</text>
<text transform="translate(36.20 1112.20) rotate(-90)" x="48.06" y="0.00" font-size="49.00" textLength="55.14" lengthAdjust="spacingAndGlyphs">vs.</text>
<text transform="translate(36.20 1112.20) rotate(-90)" x="124.81" y="0.00" font-size="49.00" textLength="42.14" lengthAdjust="spacingAndGlyphs">Li</text>
<text transform="translate(36.20 1112.20) rotate(-90)" x="169.08" y="10.93" font-size="71.64" textLength="19.14" lengthAdjust="spacingAndGlyphs" stroke="#fff" stroke-width="1.1">/</text>
<text transform="translate(36.20 1112.20) rotate(-90)" x="190.04" y="0.00" font-size="49.00" textLength="42.56" lengthAdjust="spacingAndGlyphs">Li</text>
<text transform="translate(36.20 1112.20) rotate(-90)" x="232.81" y="11.06" font-size="70.72" textLength="38.06" lengthAdjust="spacingAndGlyphs" stroke="#fff" stroke-width="1.6">+</text>
<text transform="translate(36.20 1112.20) rotate(-90)" x="286.06" y="0.00" font-size="49.00" textLength="37.65" lengthAdjust="spacingAndGlyphs">in</text>
<text transform="translate(36.20 1112.20) rotate(-90)" x="341.04" y="0.00" font-size="49.00" textLength="34.45" lengthAdjust="spacingAndGlyphs">V</text>
<text transform="translate(1091.60 477.10) rotate(-90)" x="-1.27" y="-0.71" font-size="49.92" textLength="31.74" lengthAdjust="spacingAndGlyphs">Φ</text>
<text transform="translate(1091.60 477.10) rotate(-90)" x="48.10" y="0.00" font-size="49.00" textLength="55.20" lengthAdjust="spacingAndGlyphs">vs.</text>
<text transform="translate(1091.60 477.10) rotate(-90)" x="125.10" y="0.00" font-size="49.00" textLength="41.89" lengthAdjust="spacingAndGlyphs">Li</text>
<text transform="translate(1091.60 477.10) rotate(-90)" x="169.29" y="10.63" font-size="70.50" textLength="18.95" lengthAdjust="spacingAndGlyphs" stroke="#fff" stroke-width="1.1">/</text>
<text transform="translate(1091.60 477.10) rotate(-90)" x="189.78" y="0.00" font-size="49.00" textLength="43.07" lengthAdjust="spacingAndGlyphs">Li</text>
<text transform="translate(1091.60 477.10) rotate(-90)" x="232.77" y="10.26" font-size="70.72" textLength="37.93" lengthAdjust="spacingAndGlyphs" stroke="#fff" stroke-width="1.6">+</text>
<text transform="translate(1091.60 477.10) rotate(-90)" x="286.10" y="0.00" font-size="49.00" textLength="37.90" lengthAdjust="spacingAndGlyphs">in</text>
<text transform="translate(1091.60 477.10) rotate(-90)" x="341.05" y="0.00" font-size="49.00" textLength="34.21" lengthAdjust="spacingAndGlyphs">V</text>
<text transform="translate(1091.60 1112.20) rotate(-90)" x="-1.31" y="-0.71" font-size="49.92" textLength="31.82" lengthAdjust="spacingAndGlyphs">Φ</text>
<text transform="translate(1091.60 1112.20) rotate(-90)" x="48.06" y="0.00" font-size="49.00" textLength="55.14" lengthAdjust="spacingAndGlyphs">vs.</text>
<text transform="translate(1091.60 1112.20) rotate(-90)" x="124.81" y="0.00" font-size="49.00" textLength="42.14" lengthAdjust="spacingAndGlyphs">Li</text>
<text transform="translate(1091.60 1112.20) rotate(-90)" x="169.12" y="11.20" font-size="71.19" textLength="19.19" lengthAdjust="spacingAndGlyphs" stroke="#fff" stroke-width="1.1">/</text>
<text transform="translate(1091.60 1112.20) rotate(-90)" x="190.04" y="0.00" font-size="49.00" textLength="42.56" lengthAdjust="spacingAndGlyphs">Li</text>
<text transform="translate(1091.60 1112.20) rotate(-90)" x="232.81" y="10.26" font-size="70.72" textLength="38.06" lengthAdjust="spacingAndGlyphs" stroke="#fff" stroke-width="1.6">+</text>
<text transform="translate(1091.60 1112.20) rotate(-90)" x="286.06" y="0.00" font-size="49.00" textLength="37.65" lengthAdjust="spacingAndGlyphs">in</text>
<text transform="translate(1091.60 1112.20) rotate(-90)" x="341.04" y="0.00" font-size="49.00" textLength="34.45" lengthAdjust="spacingAndGlyphs">V</text>
<text x="234.97" y="326.10" font-size="49.00" textLength="23.53" lengthAdjust="spacingAndGlyphs" fill="#59595b">1</text>
<text x="482.37" y="326.10" font-size="49.00" textLength="24.70" lengthAdjust="spacingAndGlyphs" fill="#0564c0">2</text>
<text x="729.53" y="326.10" font-size="49.00" textLength="24.27" lengthAdjust="spacingAndGlyphs" fill="#e07222">3</text>
<text x="347.68" y="977.80" font-size="49.00" textLength="23.72" lengthAdjust="spacingAndGlyphs" fill="#59595b">1</text>
<text x="607.71" y="977.80" font-size="49.00" textLength="24.35" lengthAdjust="spacingAndGlyphs" fill="#0564c0">2</text>
<text x="854.53" y="977.80" font-size="49.00" textLength="24.27" lengthAdjust="spacingAndGlyphs" fill="#e07222">3</text>
</svg></body></html>
